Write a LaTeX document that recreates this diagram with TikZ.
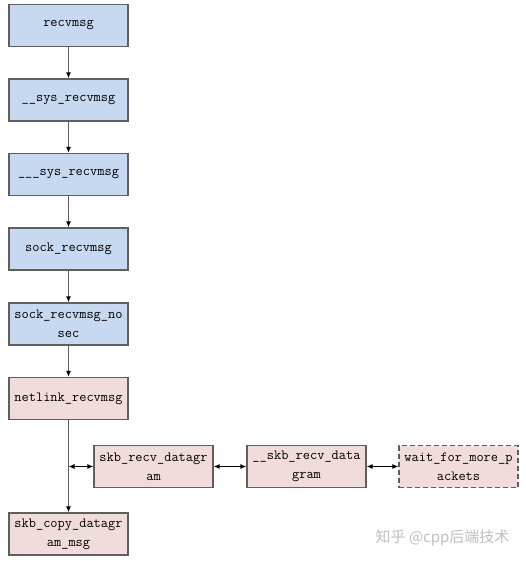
\documentclass[tikz,border=0pt]{standalone}
\usepackage{fontspec}
\newfontfamily\cjk{Noto Sans CJK SC}
\usetikzlibrary{arrows.meta}
\definecolor{bluefill}{HTML}{C6D9F0}
\definecolor{pinkfill}{HTML}{F2DCDB}
\definecolor{edgegray}{HTML}{5F5F5F}
\tikzset{
  box/.style={draw=edgegray, line width=1.3pt, minimum width=119pt, minimum height=42pt,
    inner sep=0pt, align=center, font=\fontsize{14}{19}\selectfont\ttfamily},
  bluebox/.style={box, fill=bluefill},
  pinkbox/.style={box, fill=pinkfill},
  conn/.style={draw=edgegray, line width=1.5pt, -{Latex[length=6pt,width=5pt,color=black]}},
  dconn/.style={draw=black, line width=1pt, {Latex[length=6pt,width=5pt]}-{Latex[length=6pt,width=5pt]}}
}
\begin{document}
\begin{tikzpicture}[x=1pt,y=1pt]
\useasboundingbox[fill=white] (0,0) rectangle (526,-561);
\node[bluebox] (n1) at (68.5,-25.5) {recvmsg};
\node[bluebox] (n2) at (68.5,-100) {\_\_sys\_recvmsg};
\node[bluebox] (n3) at (68.5,-174.5) {\_\_\_sys\_recvmsg};
\node[bluebox] (n4) at (68.5,-249) {sock\_recvmsg};
\node[bluebox] (n5) at (68.5,-324) {sock\_recvmsg\_no\\sec};
\node[pinkbox] (n6) at (68.5,-398.5) {netlink\_recvmsg};
\node[pinkbox] (n7) at (68.5,-534) {skb\_copy\_datagr\\am\_msg};
\node[pinkbox] (n8) at (153.5,-466.5) {skb\_recv\_datagr\\am};
\node[pinkbox] (n9) at (306.5,-466.5) {\_\_skb\_recv\_data\\gram};
\node[pinkbox, dashed, dash pattern=on 5pt off 3pt] (n10) at (458.5,-466.5) {wait\_for\_more\_p\\ackets};
\draw[conn] (n1) -- (n2);
\draw[conn] (n2) -- (n3);
\draw[conn] (n3) -- (n4);
\draw[conn] (n4) -- (n5);
\draw[conn] (n5) -- (n6);
\draw[conn] (n6) -- (n7);
\coordinate (j) at (68.5,-466.5);
\draw[dconn] (j) -- (n8.west);
\draw[dconn] (n8.east) -- (n9.west);
\draw[dconn] (n9.east) -- (n10.west);
\node[font=\cjk\fontsize{15}{17}\selectfont, text=black!25, anchor=east] (wm) at (513,-538) {知乎 @cpp后端技术};
\end{tikzpicture}
\end{document}
